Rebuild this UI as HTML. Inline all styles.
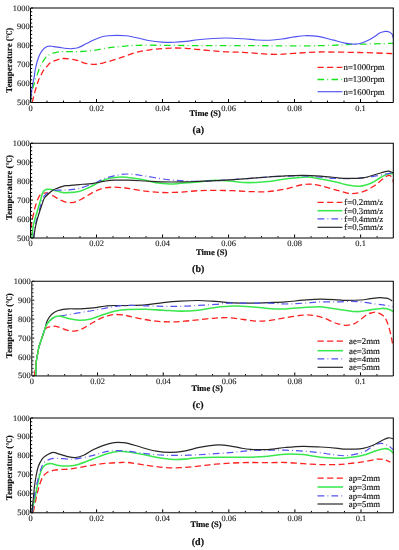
<!DOCTYPE html><html><head><meta charset="utf-8"><title>Temperature vs Time</title><style>html,body{margin:0;padding:0;background:#fff;}svg{display:block;} text{font-family:'Liberation Serif','Times New Roman',serif;text-rendering:geometricPrecision;}</style></head><body>
<svg width="399" height="550" viewBox="0 0 399 550">
<rect width="399" height="550" fill="#fff"/>
<defs><clipPath id="clip0"><rect x="30.50" y="5.00" width="362.80" height="97.50"/></clipPath></defs>
<path d="M32.20 102.50 C32.38 101.73 32.92 99.43 33.30 97.90 C33.68 96.37 34.05 94.95 34.50 93.30 C34.95 91.65 35.50 89.65 36.00 88.00 C36.50 86.35 36.98 84.93 37.50 83.40 C38.02 81.87 38.45 80.33 39.10 78.80 C39.75 77.27 40.58 75.73 41.40 74.20 C42.22 72.67 43.02 70.97 44.00 69.60 C44.98 68.23 46.25 67.13 47.30 66.00 C48.35 64.87 49.05 63.70 50.30 62.80 C51.55 61.90 53.18 61.25 54.80 60.60 C56.42 59.95 58.40 59.25 60.00 58.90 C61.60 58.55 62.47 58.45 64.40 58.50 C66.33 58.55 69.33 58.85 71.60 59.20 C73.87 59.55 75.68 59.92 78.00 60.60 C80.32 61.28 82.75 62.67 85.50 63.30 C88.25 63.93 91.48 64.47 94.50 64.40 C97.52 64.33 100.08 63.73 103.60 62.90 C107.12 62.07 111.85 60.58 115.60 59.40 C119.35 58.22 122.37 57.05 126.10 55.80 C129.83 54.55 134.02 52.90 138.00 51.90 C141.98 50.90 146.00 50.35 150.00 49.80 C154.00 49.25 158.00 48.90 162.00 48.60 C166.00 48.30 170.00 48.05 174.00 48.00 C178.00 47.95 182.00 48.05 186.00 48.30 C190.00 48.55 193.50 49.08 198.00 49.50 C202.50 49.92 208.00 50.40 213.00 50.80 C218.00 51.20 223.00 51.65 228.00 51.90 C233.00 52.15 238.00 52.05 243.00 52.30 C248.00 52.55 252.50 53.05 258.00 53.40 C263.50 53.75 270.00 54.40 276.00 54.40 C282.00 54.40 287.00 53.80 294.00 53.40 C301.00 53.00 307.33 52.15 318.00 52.00 C328.67 51.85 346.00 52.25 358.00 52.50 C370.00 52.75 384.17 53.30 390.00 53.50 C395.83 53.70 392.50 53.67 393.00 53.70" fill="none" stroke="#ff2020" stroke-width="1.30" stroke-linejoin="round" stroke-dasharray="6.2 3.4" clip-path="url(#clip0)"/>
<path d="M30.60 102.50 C30.73 101.08 31.07 96.30 31.40 94.00 C31.73 91.70 32.15 90.35 32.60 88.70 C33.05 87.05 33.65 85.62 34.10 84.10 C34.55 82.58 34.85 81.00 35.30 79.60 C35.75 78.20 36.23 77.23 36.80 75.70 C37.37 74.17 38.13 71.92 38.70 70.40 C39.27 68.88 39.58 67.93 40.20 66.60 C40.82 65.27 41.53 63.85 42.40 62.40 C43.27 60.95 44.40 59.08 45.40 57.90 C46.40 56.72 47.20 56.05 48.40 55.30 C49.60 54.55 51.15 53.93 52.60 53.40 C54.05 52.87 55.13 52.40 57.10 52.10 C59.07 51.80 60.92 51.68 64.40 51.60 C67.88 51.52 73.23 51.78 78.00 51.60 C82.77 51.42 88.00 51.13 93.00 50.50 C98.00 49.87 102.98 48.50 108.00 47.80 C113.02 47.10 118.10 46.72 123.10 46.30 C128.10 45.88 130.52 45.47 138.00 45.30 C145.48 45.13 158.00 45.25 168.00 45.30 C178.00 45.35 183.00 45.55 198.00 45.60 C213.00 45.65 245.00 45.55 258.00 45.60 C271.00 45.65 266.00 45.88 276.00 45.90 C286.00 45.92 305.00 45.95 318.00 45.70 C331.00 45.45 342.00 44.78 354.00 44.40 C366.00 44.02 383.50 43.57 390.00 43.40 C396.50 43.23 392.50 43.40 393.00 43.40" fill="none" stroke="#18e41e" stroke-width="1.30" stroke-linejoin="round" stroke-dasharray="6.6 3.2 0.9 3.3" clip-path="url(#clip0)"/>
<path d="M30.60 102.50 C30.73 100.83 31.07 95.43 31.40 92.50 C31.73 89.57 32.15 87.43 32.60 84.90 C33.05 82.37 33.62 80.03 34.10 77.30 C34.58 74.57 34.93 71.30 35.50 68.50 C36.07 65.70 36.78 62.83 37.50 60.50 C38.22 58.17 38.98 56.18 39.80 54.50 C40.62 52.82 41.53 51.52 42.40 50.40 C43.27 49.28 44.07 48.48 45.00 47.80 C45.93 47.12 46.87 46.55 48.00 46.30 C49.13 46.05 50.53 46.20 51.80 46.30 C53.07 46.40 54.23 46.72 55.60 46.90 C56.97 47.08 58.53 47.17 60.00 47.40 C61.47 47.63 62.47 48.08 64.40 48.30 C66.33 48.52 69.33 48.78 71.60 48.70 C73.87 48.62 75.68 48.57 78.00 47.80 C80.32 47.03 83.00 45.35 85.50 44.10 C88.00 42.85 90.48 41.43 93.00 40.30 C95.52 39.17 98.10 38.05 100.60 37.30 C103.10 36.55 105.25 36.13 108.00 35.80 C110.75 35.47 114.08 35.30 117.10 35.30 C120.12 35.30 122.62 35.35 126.10 35.80 C129.58 36.25 134.02 37.17 138.00 38.00 C141.98 38.83 146.00 40.12 150.00 40.80 C154.00 41.48 157.98 41.85 162.00 42.10 C166.02 42.35 170.08 42.42 174.10 42.30 C178.12 42.18 182.12 41.82 186.10 41.40 C190.08 40.98 193.52 40.28 198.00 39.80 C202.48 39.32 208.23 38.80 213.00 38.50 C217.77 38.20 221.58 37.95 226.60 38.00 C231.62 38.05 237.87 38.47 243.10 38.80 C248.33 39.13 253.52 39.77 258.00 40.00 C262.48 40.23 266.00 40.37 270.00 40.20 C274.00 40.03 277.98 39.55 282.00 39.00 C286.02 38.45 290.33 37.45 294.10 36.90 C297.87 36.35 300.62 35.78 304.60 35.70 C308.58 35.62 313.77 35.82 318.00 36.40 C322.23 36.98 327.00 38.47 330.00 39.20 C333.00 39.93 333.50 40.15 336.00 40.80 C338.50 41.45 342.30 42.57 345.00 43.10 C347.70 43.63 349.93 43.88 352.20 44.00 C354.47 44.12 356.48 44.18 358.60 43.80 C360.72 43.42 363.03 42.40 364.90 41.70 C366.77 41.00 368.17 40.45 369.80 39.60 C371.43 38.75 373.07 37.68 374.70 36.60 C376.33 35.52 377.82 33.97 379.60 33.10 C381.38 32.23 383.78 31.60 385.40 31.40 C387.02 31.20 388.15 31.38 389.30 31.90 C390.45 32.42 391.65 33.48 392.30 34.50 C392.95 35.52 393.05 37.42 393.20 38.00" fill="none" stroke="#5252f2" stroke-width="1.15" stroke-linejoin="round" clip-path="url(#clip0)"/>
<path d="M30.50 8.00 H393.30 V102.50" fill="none" stroke="#000" stroke-width="1.05"/>
<path d="M30.50 8.00 V102.50 H393.30" fill="none" stroke="#000" stroke-width="1"/>
<path d="M31.00 102.50h2.00 M31.00 98.72h1.20 M31.00 94.94h1.20 M31.00 91.16h1.20 M31.00 87.38h1.20 M31.00 83.60h2.00 M31.00 79.82h1.20 M31.00 76.04h1.20 M31.00 72.26h1.20 M31.00 68.48h1.20 M31.00 64.70h2.00 M31.00 60.92h1.20 M31.00 57.14h1.20 M31.00 53.36h1.20 M31.00 49.58h1.20 M31.00 45.80h2.00 M31.00 42.02h1.20 M31.00 38.24h1.20 M31.00 34.46h1.20 M31.00 30.68h1.20 M31.00 26.90h2.00 M31.00 23.12h1.20 M31.00 19.34h1.20 M31.00 15.56h1.20 M31.00 11.78h1.20 M31.00 8.00h2.00 M47.00 102.00v-1.40 M63.50 102.00v-1.40 M80.00 102.00v-1.40 M96.50 102.00v-3.00 M113.00 102.00v-1.40 M129.50 102.00v-1.40 M146.00 102.00v-1.40 M162.50 102.00v-3.00 M179.00 102.00v-1.40 M195.50 102.00v-1.40 M212.00 102.00v-1.40 M228.50 102.00v-3.00 M245.00 102.00v-1.40 M261.50 102.00v-1.40 M278.00 102.00v-1.40 M294.50 102.00v-3.00 M311.00 102.00v-1.40 M327.50 102.00v-1.40 M344.00 102.00v-1.40 M360.50 102.00v-3.00 M377.00 102.00v-1.40" stroke="#000" stroke-width="1" fill="none"/>
<text x="29.60" y="105.00" font-size="8.4" text-anchor="end" fill="#1a1a1a" stroke="#1a1a1a" stroke-width="0.12">500</text>
<text x="29.60" y="86.10" font-size="8.4" text-anchor="end" fill="#1a1a1a" stroke="#1a1a1a" stroke-width="0.12">600</text>
<text x="29.60" y="67.20" font-size="8.4" text-anchor="end" fill="#1a1a1a" stroke="#1a1a1a" stroke-width="0.12">700</text>
<text x="29.60" y="48.30" font-size="8.4" text-anchor="end" fill="#1a1a1a" stroke="#1a1a1a" stroke-width="0.12">800</text>
<text x="29.60" y="29.40" font-size="8.4" text-anchor="end" fill="#1a1a1a" stroke="#1a1a1a" stroke-width="0.12">900</text>
<text x="29.60" y="10.50" font-size="8.4" text-anchor="end" fill="#1a1a1a" stroke="#1a1a1a" stroke-width="0.12">1000</text>
<text x="30.50" y="110.80" font-size="8.4" text-anchor="middle" fill="#1a1a1a" stroke="#1a1a1a" stroke-width="0.12">0</text>
<text x="96.50" y="110.80" font-size="8.4" text-anchor="middle" fill="#1a1a1a" stroke="#1a1a1a" stroke-width="0.12">0.02</text>
<text x="162.50" y="110.80" font-size="8.4" text-anchor="middle" fill="#1a1a1a" stroke="#1a1a1a" stroke-width="0.12">0.04</text>
<text x="228.50" y="110.80" font-size="8.4" text-anchor="middle" fill="#1a1a1a" stroke="#1a1a1a" stroke-width="0.12">0.06</text>
<text x="294.50" y="110.80" font-size="8.4" text-anchor="middle" fill="#1a1a1a" stroke="#1a1a1a" stroke-width="0.12">0.08</text>
<text x="360.50" y="110.80" font-size="8.4" text-anchor="middle" fill="#1a1a1a" stroke="#1a1a1a" stroke-width="0.12">0.1</text>
<text x="205.20" y="116.20" font-size="8.5" font-weight="bold" text-anchor="middle" fill="#111" stroke="#111" stroke-width="0.2">Time (S)</text>
<text transform="translate(11.8 60.20) rotate(-90)" font-size="8.9" font-weight="bold" text-anchor="middle" fill="#111" stroke="#111" stroke-width="0.15">Temperature (<tspan font-family="Noto Serif CJK SC, serif" font-weight="bold" font-size="7.6" dy="0.5">℃</tspan><tspan dy="-0.5">)</tspan></text>
<text x="198.30" y="133.00" font-size="10.0" font-weight="bold" text-anchor="middle" fill="#111" stroke="#111" stroke-width="0.2">(a)</text>
<path d="M317.50 67.40H342.40" stroke="#ff2020" stroke-width="1.30" fill="none" stroke-dasharray="6.2 3.4"/>
<text x="343.50" y="70.30" font-size="8.8" fill="#111" stroke="#111" stroke-width="0.15">n=1000rpm</text>
<path d="M317.50 79.50H342.40" stroke="#18e41e" stroke-width="1.30" fill="none" stroke-dasharray="6.6 3.2 0.9 3.3"/>
<text x="343.50" y="82.40" font-size="8.8" fill="#111" stroke="#111" stroke-width="0.15">n=1300rpm</text>
<path d="M317.50 91.70H342.40" stroke="#5252f2" stroke-width="1.15" fill="none"/>
<text x="343.50" y="94.60" font-size="8.8" fill="#111" stroke="#111" stroke-width="0.15">n=1600rpm</text>
<defs><clipPath id="clip1"><rect x="30.50" y="140.20" width="362.80" height="97.80"/></clipPath></defs>
<path d="M30.40 237.90 C30.55 235.95 30.98 229.33 31.30 226.20 C31.62 223.07 31.90 221.23 32.30 219.10 C32.70 216.97 33.32 215.10 33.70 213.40 C34.08 211.70 34.15 210.60 34.60 208.90 C35.05 207.20 35.87 204.82 36.40 203.20 C36.93 201.58 37.20 200.53 37.80 199.20 C38.40 197.87 39.22 196.15 40.00 195.20 C40.78 194.25 41.77 193.85 42.50 193.50 C43.23 193.15 43.68 193.18 44.40 193.10 C45.12 193.02 45.90 192.82 46.80 193.00 C47.70 193.18 48.60 193.65 49.80 194.20 C51.00 194.75 52.55 195.50 54.00 196.30 C55.45 197.10 56.67 198.08 58.50 199.00 C60.33 199.92 62.75 201.20 65.00 201.80 C67.25 202.40 69.37 202.98 72.00 202.60 C74.63 202.22 77.58 201.05 80.80 199.50 C84.02 197.95 87.78 195.12 91.30 193.30 C94.82 191.48 98.38 189.62 101.90 188.60 C105.42 187.58 108.90 187.35 112.40 187.20 C115.90 187.05 120.30 187.50 122.90 187.70 C125.50 187.90 124.23 187.82 128.00 188.40 C131.77 188.98 139.65 190.52 145.50 191.20 C151.35 191.88 157.25 192.35 163.10 192.50 C168.95 192.65 174.78 192.40 180.60 192.10 C186.42 191.80 192.18 190.98 198.00 190.70 C203.82 190.42 209.65 190.40 215.50 190.40 C221.35 190.40 227.25 190.50 233.10 190.70 C238.95 190.90 244.78 191.45 250.60 191.60 C256.42 191.75 262.18 192.03 268.00 191.60 C273.82 191.17 279.65 190.17 285.50 189.00 C291.35 187.83 298.12 185.33 303.10 184.60 C308.08 183.87 311.60 184.17 315.40 184.60 C319.20 185.03 322.05 186.18 325.90 187.20 C329.75 188.22 334.35 189.62 338.50 190.70 C342.65 191.78 346.70 193.55 350.80 193.70 C354.90 193.85 359.30 192.83 363.10 191.60 C366.90 190.37 370.38 188.35 373.60 186.30 C376.82 184.25 379.92 181.12 382.40 179.30 C384.88 177.48 386.90 175.70 388.50 175.40 C390.10 175.10 391.12 176.12 392.00 177.50 C392.88 178.88 393.50 182.67 393.80 183.70" fill="none" stroke="#ff2020" stroke-width="1.30" stroke-linejoin="round" stroke-dasharray="6.2 3.4" clip-path="url(#clip1)"/>
<path d="M31.80 237.90 C32.03 235.95 32.68 229.33 33.20 226.20 C33.72 223.07 34.27 221.47 34.90 219.10 C35.53 216.73 36.35 214.18 37.00 212.00 C37.65 209.82 38.20 208.00 38.80 206.00 C39.40 204.00 40.07 201.87 40.60 200.00 C41.13 198.13 41.57 196.17 42.00 194.80 C42.43 193.43 42.80 192.52 43.20 191.80 C43.60 191.08 43.93 190.87 44.40 190.50 C44.87 190.13 45.40 189.80 46.00 189.60 C46.60 189.40 47.07 189.32 48.00 189.30 C48.93 189.28 50.08 189.20 51.60 189.50 C53.12 189.80 55.38 190.63 57.10 191.10 C58.82 191.57 60.42 192.03 61.90 192.30 C63.38 192.57 63.15 192.82 66.00 192.70 C68.85 192.58 75.07 192.52 79.00 191.60 C82.93 190.68 86.08 188.82 89.60 187.20 C93.12 185.58 96.60 183.42 100.10 181.90 C103.60 180.38 107.08 178.92 110.60 178.10 C114.12 177.28 118.30 177.10 121.20 177.00 C124.10 176.90 124.53 177.07 128.00 177.50 C131.47 177.93 137.33 178.72 142.00 179.60 C146.67 180.48 151.32 182.07 156.00 182.80 C160.68 183.53 166.00 183.92 170.10 184.00 C174.20 184.08 175.95 183.65 180.60 183.30 C185.25 182.95 192.18 182.42 198.00 181.90 C203.82 181.38 210.23 180.35 215.50 180.20 C220.77 180.05 224.92 180.62 229.60 181.00 C234.28 181.38 239.22 182.25 243.60 182.50 C247.98 182.75 251.83 182.65 255.90 182.50 C259.97 182.35 263.07 182.18 268.00 181.60 C272.93 181.02 279.07 179.77 285.50 179.00 C291.93 178.23 300.75 177.00 306.60 177.00 C312.45 177.00 315.37 178.08 320.60 179.00 C325.83 179.92 333.85 181.57 338.00 182.50 C342.15 183.43 341.90 183.97 345.50 184.60 C349.10 185.23 355.20 186.60 359.60 186.30 C364.00 186.00 368.40 184.27 371.90 182.80 C375.40 181.33 377.98 178.97 380.60 177.50 C383.22 176.03 385.70 174.63 387.60 174.00 C389.50 173.37 391.05 173.70 392.00 173.70 C392.95 173.70 393.08 173.95 393.30 174.00" fill="none" stroke="#3ae84e" stroke-width="1.55" stroke-linejoin="round" clip-path="url(#clip1)"/>
<path d="M33.70 237.90 C33.93 235.95 34.58 229.33 35.10 226.20 C35.62 223.07 36.17 221.47 36.80 219.10 C37.43 216.73 38.20 214.52 38.90 212.00 C39.60 209.48 40.28 206.42 41.00 204.00 C41.72 201.58 42.43 199.08 43.20 197.50 C43.97 195.92 44.60 195.42 45.60 194.50 C46.60 193.58 47.80 192.68 49.20 192.00 C50.60 191.32 52.20 190.70 54.00 190.40 C55.80 190.10 58.28 190.25 60.00 190.20 C61.72 190.15 62.88 190.17 64.30 190.10 C65.72 190.03 66.05 190.08 68.50 189.80 C70.95 189.52 74.90 189.42 79.00 188.40 C83.10 187.38 89.00 185.27 93.10 183.70 C97.20 182.13 100.10 180.32 103.60 179.00 C107.10 177.68 110.03 176.63 114.10 175.80 C118.17 174.97 122.77 173.95 128.00 174.00 C133.23 174.05 139.65 175.27 145.50 176.10 C151.35 176.93 157.25 178.23 163.10 179.00 C168.95 179.77 174.78 180.30 180.60 180.70 C186.42 181.10 192.18 181.40 198.00 181.40 C203.82 181.40 209.65 181.00 215.50 180.70 C221.35 180.40 227.25 179.98 233.10 179.60 C238.95 179.22 244.78 178.83 250.60 178.40 C256.42 177.97 262.18 177.35 268.00 177.00 C273.82 176.65 279.65 176.50 285.50 176.30 C291.35 176.10 297.25 175.65 303.10 175.80 C308.95 175.95 315.33 176.77 320.60 177.20 C325.87 177.63 329.08 178.20 334.70 178.40 C340.32 178.60 348.10 178.68 354.30 178.40 C360.50 178.12 366.63 177.43 371.90 176.70 C377.17 175.97 382.68 174.58 385.90 174.00 C389.12 173.42 389.97 173.28 391.20 173.20 C392.43 173.12 392.95 173.45 393.30 173.50" fill="none" stroke="#5252f2" stroke-width="1.20" stroke-linejoin="round" stroke-dasharray="6.8 3.2 0.8 3.1" clip-path="url(#clip1)"/>
<path d="M33.60 237.90 C33.93 235.95 34.98 229.33 35.60 226.20 C36.22 223.07 36.65 221.47 37.30 219.10 C37.95 216.73 38.78 214.27 39.50 212.00 C40.22 209.73 40.88 207.62 41.60 205.50 C42.32 203.38 43.12 200.80 43.80 199.30 C44.48 197.80 45.00 197.35 45.70 196.50 C46.40 195.65 46.82 195.25 48.00 194.20 C49.18 193.15 51.18 191.22 52.80 190.20 C54.42 189.18 56.18 188.70 57.70 188.10 C59.22 187.50 60.52 187.00 61.90 186.60 C63.28 186.20 63.15 186.03 66.00 185.70 C68.85 185.37 74.48 185.00 79.00 184.60 C83.52 184.20 89.00 183.83 93.10 183.30 C97.20 182.77 100.10 181.92 103.60 181.40 C107.10 180.88 110.03 180.40 114.10 180.20 C118.17 180.00 122.77 180.07 128.00 180.20 C133.23 180.33 139.65 180.72 145.50 181.00 C151.35 181.28 157.25 181.75 163.10 181.90 C168.95 182.05 174.78 181.98 180.60 181.90 C186.42 181.82 192.18 181.60 198.00 181.40 C203.82 181.20 209.65 181.00 215.50 180.70 C221.35 180.40 227.25 179.98 233.10 179.60 C238.95 179.22 244.78 178.83 250.60 178.40 C256.42 177.97 262.18 177.43 268.00 177.00 C273.82 176.57 279.65 176.08 285.50 175.80 C291.35 175.52 297.25 175.25 303.10 175.30 C308.95 175.35 314.78 175.68 320.60 176.10 C326.42 176.52 333.85 177.42 338.00 177.80 C342.15 178.18 341.32 178.38 345.50 178.40 C349.68 178.42 357.83 178.63 363.10 177.90 C368.37 177.17 373.02 175.13 377.10 174.00 C381.18 172.87 385.12 171.38 387.60 171.10 C390.08 170.82 391.05 171.98 392.00 172.30 C392.95 172.62 393.08 172.88 393.30 173.00" fill="none" stroke="#282828" stroke-width="1.20" stroke-linejoin="round" clip-path="url(#clip1)"/>
<path d="M30.50 143.20 H393.30 V238.00" fill="none" stroke="#000" stroke-width="1.05"/>
<path d="M30.50 143.20 V238.00 H393.30" fill="none" stroke="#000" stroke-width="1"/>
<path d="M31.00 238.00h2.00 M31.00 234.21h1.20 M31.00 230.42h1.20 M31.00 226.62h1.20 M31.00 222.83h1.20 M31.00 219.04h2.00 M31.00 215.25h1.20 M31.00 211.46h1.20 M31.00 207.66h1.20 M31.00 203.87h1.20 M31.00 200.08h2.00 M31.00 196.29h1.20 M31.00 192.50h1.20 M31.00 188.70h1.20 M31.00 184.91h1.20 M31.00 181.12h2.00 M31.00 177.33h1.20 M31.00 173.54h1.20 M31.00 169.74h1.20 M31.00 165.95h1.20 M31.00 162.16h2.00 M31.00 158.37h1.20 M31.00 154.58h1.20 M31.00 150.78h1.20 M31.00 146.99h1.20 M31.00 143.20h2.00 M47.00 237.50v-1.40 M63.51 237.50v-1.40 M80.02 237.50v-1.40 M96.52 237.50v-3.00 M113.03 237.50v-1.40 M129.53 237.50v-1.40 M146.04 237.50v-1.40 M162.54 237.50v-3.00 M179.04 237.50v-1.40 M195.55 237.50v-1.40 M212.06 237.50v-1.40 M228.56 237.50v-3.00 M245.06 237.50v-1.40 M261.57 237.50v-1.40 M278.07 237.50v-1.40 M294.58 237.50v-3.00 M311.09 237.50v-1.40 M327.59 237.50v-1.40 M344.10 237.50v-1.40 M360.60 237.50v-3.00 M377.10 237.50v-1.40" stroke="#000" stroke-width="1" fill="none"/>
<text x="29.60" y="240.50" font-size="8.4" text-anchor="end" fill="#1a1a1a" stroke="#1a1a1a" stroke-width="0.12">500</text>
<text x="29.60" y="221.54" font-size="8.4" text-anchor="end" fill="#1a1a1a" stroke="#1a1a1a" stroke-width="0.12">600</text>
<text x="29.60" y="202.58" font-size="8.4" text-anchor="end" fill="#1a1a1a" stroke="#1a1a1a" stroke-width="0.12">700</text>
<text x="29.60" y="183.62" font-size="8.4" text-anchor="end" fill="#1a1a1a" stroke="#1a1a1a" stroke-width="0.12">800</text>
<text x="29.60" y="164.66" font-size="8.4" text-anchor="end" fill="#1a1a1a" stroke="#1a1a1a" stroke-width="0.12">900</text>
<text x="29.60" y="145.70" font-size="8.4" text-anchor="end" fill="#1a1a1a" stroke="#1a1a1a" stroke-width="0.12">1000</text>
<text x="30.50" y="246.30" font-size="8.4" text-anchor="middle" fill="#1a1a1a" stroke="#1a1a1a" stroke-width="0.12">0</text>
<text x="96.52" y="246.30" font-size="8.4" text-anchor="middle" fill="#1a1a1a" stroke="#1a1a1a" stroke-width="0.12">0.02</text>
<text x="162.54" y="246.30" font-size="8.4" text-anchor="middle" fill="#1a1a1a" stroke="#1a1a1a" stroke-width="0.12">0.04</text>
<text x="228.56" y="246.30" font-size="8.4" text-anchor="middle" fill="#1a1a1a" stroke="#1a1a1a" stroke-width="0.12">0.06</text>
<text x="294.58" y="246.30" font-size="8.4" text-anchor="middle" fill="#1a1a1a" stroke="#1a1a1a" stroke-width="0.12">0.08</text>
<text x="360.60" y="246.30" font-size="8.4" text-anchor="middle" fill="#1a1a1a" stroke="#1a1a1a" stroke-width="0.12">0.1</text>
<text x="211.60" y="254.80" font-size="8.5" font-weight="bold" text-anchor="middle" fill="#111" stroke="#111" stroke-width="0.2">Time (S)</text>
<text transform="translate(11.8 187.50) rotate(-90)" font-size="8.9" font-weight="bold" text-anchor="middle" fill="#111" stroke="#111" stroke-width="0.15">Temperature (<tspan font-family="Noto Serif CJK SC, serif" font-weight="bold" font-size="7.6" dy="0.5">℃</tspan><tspan dy="-0.5">)</tspan></text>
<text x="198.20" y="271.50" font-size="10.0" font-weight="bold" text-anchor="middle" fill="#111" stroke="#111" stroke-width="0.2">(b)</text>
<path d="M317.50 202.40H342.40" stroke="#ff2020" stroke-width="1.30" fill="none" stroke-dasharray="6.2 3.4"/>
<text x="344.30" y="205.30" font-size="8.8" fill="#111" stroke="#111" stroke-width="0.15">f=0.2mm/z</text>
<path d="M317.50 210.70H342.40" stroke="#3ae84e" stroke-width="1.55" fill="none"/>
<text x="344.30" y="213.60" font-size="8.8" fill="#111" stroke="#111" stroke-width="0.15">f=0.3mm/z</text>
<path d="M317.50 218.80H342.40" stroke="#5252f2" stroke-width="1.20" fill="none" stroke-dasharray="6.8 3.2 0.8 3.1"/>
<text x="344.30" y="221.70" font-size="8.8" fill="#111" stroke="#111" stroke-width="0.15">f=0.4mm/z</text>
<path d="M317.50 227.30H342.40" stroke="#282828" stroke-width="1.20" fill="none"/>
<text x="344.30" y="230.20" font-size="8.8" fill="#111" stroke="#111" stroke-width="0.15">f=0.5mm/z</text>
<defs><clipPath id="clip2"><rect x="31.80" y="278.30" width="361.50" height="97.65"/></clipPath></defs>
<path d="M35.70 375.90 C35.78 373.65 35.88 366.07 36.20 362.40 C36.52 358.73 37.13 356.50 37.60 353.90 C38.07 351.30 38.30 349.40 39.00 346.80 C39.70 344.20 40.87 341.13 41.80 338.30 C42.73 335.47 43.97 331.77 44.60 329.80 C45.23 327.83 45.20 327.92 45.60 326.50 C46.00 325.08 46.28 323.00 47.00 321.30 C47.72 319.60 48.72 317.77 49.90 316.30 C51.08 314.83 52.68 313.47 54.10 312.50 C55.52 311.53 57.08 310.98 58.40 310.50 C59.72 310.02 60.32 309.88 62.00 309.60 C63.68 309.32 65.37 308.93 68.50 308.80 C71.63 308.67 76.70 308.95 80.80 308.80 C84.90 308.65 88.72 308.40 93.10 307.90 C97.48 307.40 103.02 306.20 107.10 305.80 C111.18 305.40 114.12 305.55 117.60 305.50 C121.08 305.45 123.35 305.60 128.00 305.50 C132.65 305.40 139.65 305.38 145.50 304.90 C151.35 304.42 157.25 303.23 163.10 302.60 C168.95 301.97 174.78 301.45 180.60 301.10 C186.42 300.75 192.18 300.45 198.00 300.50 C203.82 300.55 209.65 301.02 215.50 301.40 C221.35 301.78 227.25 302.50 233.10 302.80 C238.95 303.10 244.78 303.23 250.60 303.20 C256.42 303.17 262.18 302.82 268.00 302.60 C273.82 302.38 279.65 302.30 285.50 301.90 C291.35 301.50 297.25 300.67 303.10 300.20 C308.95 299.73 314.78 299.15 320.60 299.10 C326.42 299.05 333.85 299.68 338.00 299.90 C342.15 300.12 341.67 300.38 345.50 300.40 C349.33 300.42 356.88 300.28 361.00 300.00 C365.12 299.72 367.03 299.10 370.20 298.70 C373.37 298.30 377.37 297.68 380.00 297.60 C382.63 297.52 384.50 297.97 386.00 298.20 C387.50 298.43 387.97 298.53 389.00 299.00 C390.03 299.47 391.67 300.67 392.20 301.00" fill="none" stroke="#282828" stroke-width="1.20" stroke-linejoin="round" clip-path="url(#clip2)"/>
<path d="M34.30 375.90 C34.62 373.65 35.65 366.07 36.20 362.40 C36.75 358.73 37.13 356.50 37.60 353.90 C38.07 351.30 38.30 349.40 39.00 346.80 C39.70 344.20 40.87 341.13 41.80 338.30 C42.73 335.47 43.97 331.42 44.60 329.80 C45.23 328.18 44.97 329.03 45.60 328.60 C46.23 328.17 47.30 327.60 48.40 327.20 C49.50 326.80 50.60 326.27 52.20 326.20 C53.80 326.13 55.87 326.25 58.00 326.80 C60.13 327.35 62.37 328.77 65.00 329.50 C67.63 330.23 70.87 331.35 73.80 331.20 C76.73 331.05 79.38 330.05 82.60 328.60 C85.82 327.15 89.60 324.40 93.10 322.50 C96.60 320.60 100.10 318.52 103.60 317.20 C107.10 315.88 110.58 314.95 114.10 314.60 C117.62 314.25 122.38 314.87 124.70 315.10 C127.02 315.33 125.12 315.35 128.00 316.00 C130.88 316.65 137.32 318.13 142.00 319.00 C146.68 319.87 151.42 320.72 156.10 321.20 C160.78 321.68 165.43 321.90 170.10 321.90 C174.77 321.90 179.45 321.55 184.10 321.20 C188.75 320.85 192.77 320.32 198.00 319.80 C203.23 319.28 210.23 318.45 215.50 318.10 C220.77 317.75 224.92 317.47 229.60 317.70 C234.28 317.93 239.22 318.93 243.60 319.50 C247.98 320.07 251.83 320.90 255.90 321.10 C259.97 321.30 263.07 321.27 268.00 320.70 C272.93 320.13 279.65 318.63 285.50 317.70 C291.35 316.77 298.42 315.48 303.10 315.10 C307.78 314.72 310.10 314.90 313.60 315.40 C317.10 315.90 320.88 316.98 324.10 318.10 C327.32 319.22 330.58 321.15 332.90 322.10 C335.22 323.05 335.90 323.25 338.00 323.80 C340.10 324.35 343.17 325.28 345.50 325.40 C347.83 325.52 350.23 324.95 352.00 324.50 C353.77 324.05 354.77 323.47 356.10 322.70 C357.43 321.93 358.25 321.22 360.00 319.90 C361.75 318.58 364.77 315.95 366.60 314.80 C368.43 313.65 369.33 313.42 371.00 313.00 C372.67 312.58 374.62 311.88 376.60 312.30 C378.58 312.72 381.20 314.02 382.90 315.50 C384.60 316.98 385.63 318.65 386.80 321.20 C387.97 323.75 389.07 327.72 389.90 330.80 C390.73 333.88 391.30 337.17 391.80 339.70 C392.30 342.23 392.72 344.95 392.90 346.00" fill="none" stroke="#ff2020" stroke-width="1.30" stroke-linejoin="round" stroke-dasharray="6.2 3.4" clip-path="url(#clip2)"/>
<path d="M35.70 375.90 C35.78 373.65 35.88 366.07 36.20 362.40 C36.52 358.73 37.13 356.50 37.60 353.90 C38.07 351.30 38.30 349.40 39.00 346.80 C39.70 344.20 40.87 341.13 41.80 338.30 C42.73 335.47 43.93 331.77 44.60 329.80 C45.27 327.83 45.40 327.45 45.80 326.50 C46.20 325.55 46.32 325.08 47.00 324.10 C47.68 323.12 48.72 321.73 49.90 320.60 C51.08 319.47 52.75 318.02 54.10 317.30 C55.45 316.58 55.60 316.75 58.00 316.30 C60.40 315.85 64.70 315.23 68.50 314.60 C72.30 313.97 76.70 313.18 80.80 312.50 C84.90 311.82 88.72 311.27 93.10 310.50 C97.48 309.73 103.02 308.63 107.10 307.90 C111.18 307.17 114.12 306.52 117.60 306.10 C121.08 305.68 123.35 305.45 128.00 305.40 C132.65 305.35 139.65 305.65 145.50 305.80 C151.35 305.95 157.25 306.22 163.10 306.30 C168.95 306.38 174.78 306.45 180.60 306.30 C186.42 306.15 192.18 305.72 198.00 305.40 C203.82 305.08 210.23 304.77 215.50 304.40 C220.77 304.03 223.75 303.40 229.60 303.20 C235.45 303.00 244.20 303.20 250.60 303.20 C257.00 303.20 262.18 303.07 268.00 303.20 C273.82 303.33 279.65 304.00 285.50 304.00 C291.35 304.00 297.25 303.55 303.10 303.20 C308.95 302.85 314.78 302.13 320.60 301.90 C326.42 301.67 332.67 301.90 338.00 301.80 C343.33 301.70 348.52 301.25 352.60 301.30 C356.68 301.35 358.72 301.65 362.50 302.10 C366.28 302.55 371.47 303.47 375.30 304.00 C379.13 304.53 382.57 304.87 385.50 305.30 C388.43 305.73 391.67 306.38 392.90 306.60" fill="none" stroke="#5252f2" stroke-width="1.20" stroke-linejoin="round" stroke-dasharray="6.8 3.2 0.8 3.1" clip-path="url(#clip2)"/>
<path d="M35.70 375.90 C35.78 373.65 35.88 366.07 36.20 362.40 C36.52 358.73 37.13 356.50 37.60 353.90 C38.07 351.30 38.30 349.40 39.00 346.80 C39.70 344.20 40.87 341.13 41.80 338.30 C42.73 335.47 43.93 331.77 44.60 329.80 C45.27 327.83 45.40 327.45 45.80 326.50 C46.20 325.55 46.32 325.08 47.00 324.10 C47.68 323.12 48.72 321.73 49.90 320.60 C51.08 319.47 52.68 318.05 54.10 317.30 C55.52 316.55 57.08 316.22 58.40 316.10 C59.72 315.98 60.32 316.20 62.00 316.60 C63.68 317.00 65.67 317.90 68.50 318.50 C71.33 319.10 75.48 320.07 79.00 320.20 C82.52 320.33 86.08 320.03 89.60 319.30 C93.12 318.57 96.60 316.97 100.10 315.80 C103.60 314.63 107.08 313.25 110.60 312.30 C114.12 311.35 118.30 310.57 121.20 310.10 C124.10 309.63 123.95 309.63 128.00 309.50 C132.05 309.37 139.65 309.18 145.50 309.30 C151.35 309.42 157.25 309.90 163.10 310.20 C168.95 310.50 174.78 311.10 180.60 311.10 C186.42 311.10 192.18 310.80 198.00 310.20 C203.82 309.60 209.65 308.18 215.50 307.50 C221.35 306.82 227.25 306.23 233.10 306.10 C238.95 305.97 244.78 306.32 250.60 306.70 C256.42 307.08 262.18 308.03 268.00 308.40 C273.82 308.77 279.65 309.05 285.50 308.90 C291.35 308.75 297.53 307.87 303.10 307.50 C308.67 307.13 314.52 306.60 318.90 306.70 C323.28 306.80 326.22 307.67 329.40 308.10 C332.58 308.53 335.40 308.95 338.00 309.30 C340.60 309.65 341.98 309.82 345.00 310.20 C348.02 310.58 352.60 311.53 356.10 311.60 C359.60 311.67 363.02 310.98 366.00 310.60 C368.98 310.22 371.33 309.67 374.00 309.30 C376.67 308.93 379.83 308.48 382.00 308.40 C384.17 308.32 385.58 308.53 387.00 308.80 C388.42 309.07 389.50 309.55 390.50 310.00 C391.50 310.45 392.58 311.25 393.00 311.50" fill="none" stroke="#3ae84e" stroke-width="1.55" stroke-linejoin="round" clip-path="url(#clip2)"/>
<path d="M31.80 281.30 H393.30 V375.95" fill="none" stroke="#000" stroke-width="1.05"/>
<path d="M31.80 281.30 V375.95 H393.30" fill="none" stroke="#000" stroke-width="1"/>
<path d="M32.30 375.95h2.00 M32.30 372.16h1.20 M32.30 368.38h1.20 M32.30 364.59h1.20 M32.30 360.81h1.20 M32.30 357.02h2.00 M32.30 353.23h1.20 M32.30 349.45h1.20 M32.30 345.66h1.20 M32.30 341.88h1.20 M32.30 338.09h2.00 M32.30 334.30h1.20 M32.30 330.52h1.20 M32.30 326.73h1.20 M32.30 322.95h1.20 M32.30 319.16h2.00 M32.30 315.37h1.20 M32.30 311.59h1.20 M32.30 307.80h1.20 M32.30 304.02h1.20 M32.30 300.23h2.00 M32.30 296.44h1.20 M32.30 292.66h1.20 M32.30 288.87h1.20 M32.30 285.09h1.20 M32.30 281.30h2.00 M48.23 375.45v-1.40 M64.67 375.45v-1.40 M81.10 375.45v-1.40 M97.54 375.45v-3.00 M113.97 375.45v-1.40 M130.41 375.45v-1.40 M146.84 375.45v-1.40 M163.28 375.45v-3.00 M179.71 375.45v-1.40 M196.15 375.45v-1.40 M212.58 375.45v-1.40 M229.02 375.45v-3.00 M245.45 375.45v-1.40 M261.89 375.45v-1.40 M278.32 375.45v-1.40 M294.76 375.45v-3.00 M311.19 375.45v-1.40 M327.63 375.45v-1.40 M344.06 375.45v-1.40 M360.50 375.45v-3.00 M376.93 375.45v-1.40" stroke="#000" stroke-width="1" fill="none"/>
<text x="30.60" y="378.45" font-size="8.4" text-anchor="end" fill="#1a1a1a" stroke="#1a1a1a" stroke-width="0.12">500</text>
<text x="30.60" y="359.52" font-size="8.4" text-anchor="end" fill="#1a1a1a" stroke="#1a1a1a" stroke-width="0.12">600</text>
<text x="30.60" y="340.59" font-size="8.4" text-anchor="end" fill="#1a1a1a" stroke="#1a1a1a" stroke-width="0.12">700</text>
<text x="30.60" y="321.66" font-size="8.4" text-anchor="end" fill="#1a1a1a" stroke="#1a1a1a" stroke-width="0.12">800</text>
<text x="30.60" y="302.73" font-size="8.4" text-anchor="end" fill="#1a1a1a" stroke="#1a1a1a" stroke-width="0.12">900</text>
<text x="30.60" y="283.80" font-size="8.4" text-anchor="end" fill="#1a1a1a" stroke="#1a1a1a" stroke-width="0.12">1000</text>
<text x="31.80" y="384.25" font-size="8.4" text-anchor="middle" fill="#1a1a1a" stroke="#1a1a1a" stroke-width="0.12">0</text>
<text x="97.54" y="384.25" font-size="8.4" text-anchor="middle" fill="#1a1a1a" stroke="#1a1a1a" stroke-width="0.12">0.02</text>
<text x="163.28" y="384.25" font-size="8.4" text-anchor="middle" fill="#1a1a1a" stroke="#1a1a1a" stroke-width="0.12">0.04</text>
<text x="229.02" y="384.25" font-size="8.4" text-anchor="middle" fill="#1a1a1a" stroke="#1a1a1a" stroke-width="0.12">0.06</text>
<text x="294.76" y="384.25" font-size="8.4" text-anchor="middle" fill="#1a1a1a" stroke="#1a1a1a" stroke-width="0.12">0.08</text>
<text x="360.50" y="384.25" font-size="8.4" text-anchor="middle" fill="#1a1a1a" stroke="#1a1a1a" stroke-width="0.12">0.1</text>
<text x="207.10" y="390.80" font-size="8.5" font-weight="bold" text-anchor="middle" fill="#111" stroke="#111" stroke-width="0.2">Time (S)</text>
<text transform="translate(11.8 325.70) rotate(-90)" font-size="8.9" font-weight="bold" text-anchor="middle" fill="#111" stroke="#111" stroke-width="0.15">Temperature (<tspan font-family="Noto Serif CJK SC, serif" font-weight="bold" font-size="7.6" dy="0.5">℃</tspan><tspan dy="-0.5">)</tspan></text>
<text x="198.00" y="407.80" font-size="10.0" font-weight="bold" text-anchor="middle" fill="#111" stroke="#111" stroke-width="0.2">(c)</text>
<path d="M317.50 341.10H343.00" stroke="#ff2020" stroke-width="1.30" fill="none" stroke-dasharray="6.2 3.4"/>
<text x="349.00" y="344.00" font-size="8.8" fill="#111" stroke="#111" stroke-width="0.15">ae=2mm</text>
<path d="M317.50 350.70H343.00" stroke="#3ae84e" stroke-width="1.55" fill="none"/>
<text x="349.00" y="353.60" font-size="8.8" fill="#111" stroke="#111" stroke-width="0.15">ae=3mm</text>
<path d="M317.50 358.80H343.00" stroke="#5252f2" stroke-width="1.20" fill="none" stroke-dasharray="6.8 3.2 0.8 3.1"/>
<text x="349.00" y="361.70" font-size="8.8" fill="#111" stroke="#111" stroke-width="0.15">ae=4mm</text>
<path d="M317.50 367.30H343.00" stroke="#282828" stroke-width="1.20" fill="none"/>
<text x="349.00" y="370.20" font-size="8.8" fill="#111" stroke="#111" stroke-width="0.15">ae=5mm</text>
<defs><clipPath id="clip3"><rect x="30.50" y="415.00" width="362.80" height="97.80"/></clipPath></defs>
<path d="M33.20 512.30 C33.58 510.43 34.75 504.57 35.50 501.10 C36.25 497.63 36.98 494.35 37.70 491.50 C38.42 488.65 38.92 486.50 39.80 484.00 C40.68 481.50 41.83 478.38 43.00 476.50 C44.17 474.62 45.63 473.52 46.80 472.70 C47.97 471.88 48.75 472.02 50.00 471.60 C51.25 471.18 52.30 470.57 54.30 470.20 C56.30 469.83 59.72 469.57 62.00 469.40 C64.28 469.23 65.75 469.40 68.00 469.20 C70.25 469.00 71.32 468.88 75.50 468.20 C79.68 467.52 87.83 465.92 93.10 465.10 C98.37 464.28 102.42 463.73 107.10 463.30 C111.78 462.87 117.72 462.63 121.20 462.50 C124.68 462.37 123.95 462.07 128.00 462.50 C132.05 462.93 139.65 464.28 145.50 465.10 C151.35 465.92 157.25 466.97 163.10 467.40 C168.95 467.83 174.78 467.90 180.60 467.70 C186.42 467.50 192.18 466.78 198.00 466.20 C203.82 465.62 209.65 464.73 215.50 464.20 C221.35 463.67 227.25 463.28 233.10 463.00 C238.95 462.72 244.78 462.55 250.60 462.50 C256.42 462.45 262.18 462.70 268.00 462.70 C273.82 462.70 279.65 462.33 285.50 462.50 C291.35 462.67 297.25 463.35 303.10 463.70 C308.95 464.05 314.78 464.47 320.60 464.60 C326.42 464.73 333.85 464.60 338.00 464.50 C342.15 464.40 341.32 464.45 345.50 464.00 C349.68 463.55 357.83 462.60 363.10 461.80 C368.37 461.00 373.60 459.57 377.10 459.20 C380.60 458.83 381.90 459.10 384.10 459.60 C386.30 460.10 389.27 461.77 390.30 462.20" fill="none" stroke="#ff2020" stroke-width="1.30" stroke-linejoin="round" stroke-dasharray="6.2 3.4" clip-path="url(#clip3)"/>
<path d="M32.40 512.30 C32.55 511.08 32.87 507.40 33.30 505.00 C33.73 502.60 34.37 500.87 35.00 497.90 C35.63 494.93 36.38 490.77 37.10 487.20 C37.82 483.63 38.50 479.53 39.30 476.50 C40.10 473.47 40.83 470.97 41.90 469.00 C42.97 467.03 44.35 465.60 45.70 464.70 C47.05 463.80 48.78 463.72 50.00 463.60 C51.22 463.48 51.52 463.68 53.00 464.00 C54.48 464.32 56.32 465.17 58.90 465.50 C61.48 465.83 65.15 466.22 68.50 466.00 C71.85 465.78 74.90 465.38 79.00 464.20 C83.10 463.02 88.42 460.65 93.10 458.90 C97.78 457.15 103.02 454.95 107.10 453.70 C111.18 452.45 114.12 451.70 117.60 451.40 C121.08 451.10 123.93 451.43 128.00 451.90 C132.07 452.37 137.32 453.32 142.00 454.20 C146.68 455.08 150.83 456.32 156.10 457.20 C161.37 458.08 168.35 459.22 173.60 459.50 C178.85 459.78 183.53 459.20 187.60 458.90 C191.67 458.60 193.35 457.98 198.00 457.70 C202.65 457.42 209.65 457.28 215.50 457.20 C221.35 457.12 227.25 457.20 233.10 457.20 C238.95 457.20 244.78 457.37 250.60 457.20 C256.42 457.03 262.18 456.70 268.00 456.20 C273.82 455.70 279.65 454.47 285.50 454.20 C291.35 453.93 297.25 454.10 303.10 454.60 C308.95 455.10 314.78 456.60 320.60 457.20 C326.42 457.80 333.85 458.07 338.00 458.20 C342.15 458.33 341.32 458.50 345.50 458.00 C349.68 457.50 358.12 456.37 363.10 455.20 C368.08 454.03 371.90 452.08 375.40 451.00 C378.90 449.92 381.77 448.93 384.10 448.70 C386.43 448.47 387.87 448.87 389.40 449.60 C390.93 450.33 392.65 452.52 393.30 453.10" fill="none" stroke="#3ae84e" stroke-width="1.55" stroke-linejoin="round" clip-path="url(#clip3)"/>
<path d="M32.20 512.30 C32.30 511.68 32.43 511.35 32.80 508.60 C33.17 505.85 33.77 499.73 34.40 495.80 C35.03 491.87 35.88 488.22 36.60 485.00 C37.32 481.78 37.98 479.17 38.70 476.50 C39.42 473.83 40.00 471.33 40.90 469.00 C41.80 466.67 42.65 464.10 44.10 462.50 C45.55 460.90 47.65 460.10 49.60 459.40 C51.55 458.70 52.73 458.35 55.80 458.30 C58.87 458.25 64.72 459.00 68.00 459.10 C71.28 459.20 71.32 459.52 75.50 458.90 C79.68 458.28 87.83 456.65 93.10 455.40 C98.37 454.15 103.02 452.18 107.10 451.40 C111.18 450.62 114.12 450.72 117.60 450.70 C121.08 450.68 123.35 450.80 128.00 451.30 C132.65 451.80 139.65 453.07 145.50 453.70 C151.35 454.33 157.25 454.82 163.10 455.10 C168.95 455.38 174.78 455.45 180.60 455.40 C186.42 455.35 192.18 455.08 198.00 454.80 C203.82 454.52 209.65 454.12 215.50 453.70 C221.35 453.28 227.25 452.80 233.10 452.30 C238.95 451.80 244.78 451.05 250.60 450.70 C256.42 450.35 262.18 450.28 268.00 450.20 C273.82 450.12 279.65 450.05 285.50 450.20 C291.35 450.35 297.25 450.67 303.10 451.10 C308.95 451.53 316.12 452.28 320.60 452.80 C325.08 453.32 325.85 453.72 330.00 454.20 C334.15 454.68 339.98 456.03 345.50 455.70 C351.02 455.37 358.42 453.87 363.10 452.20 C367.78 450.53 370.68 447.17 373.60 445.70 C376.52 444.23 378.27 443.48 380.60 443.40 C382.93 443.32 385.55 444.17 387.60 445.20 C389.65 446.23 392.02 448.87 392.90 449.60" fill="none" stroke="#5252f2" stroke-width="1.20" stroke-linejoin="round" stroke-dasharray="6.8 3.2 0.8 3.1" clip-path="url(#clip3)"/>
<path d="M31.80 512.30 C32.07 509.90 32.97 502.08 33.40 497.90 C33.83 493.72 33.97 490.77 34.40 487.20 C34.83 483.63 35.37 479.90 36.00 476.50 C36.63 473.10 37.22 469.67 38.20 466.80 C39.18 463.93 40.57 461.18 41.90 459.30 C43.23 457.42 45.05 456.38 46.20 455.50 C47.35 454.62 47.58 454.52 48.80 454.00 C50.02 453.48 51.88 452.43 53.50 452.40 C55.12 452.37 56.28 453.15 58.50 453.80 C60.72 454.45 63.97 455.68 66.80 456.30 C69.63 456.92 72.58 457.72 75.50 457.50 C78.42 457.28 81.37 456.28 84.30 455.00 C87.23 453.72 89.88 451.40 93.10 449.80 C96.32 448.20 100.10 446.58 103.60 445.40 C107.10 444.22 110.88 443.17 114.10 442.70 C117.32 442.23 120.58 442.48 122.90 442.60 C125.22 442.72 124.82 442.58 128.00 443.40 C131.18 444.22 137.32 446.22 142.00 447.50 C146.68 448.78 151.42 450.30 156.10 451.10 C160.78 451.90 165.43 452.30 170.10 452.30 C174.77 452.30 179.45 451.87 184.10 451.10 C188.75 450.33 193.93 448.58 198.00 447.70 C202.07 446.82 204.98 446.27 208.50 445.80 C212.02 445.33 215.58 444.90 219.10 444.90 C222.62 444.90 226.10 445.30 229.60 445.80 C233.10 446.30 236.60 447.32 240.10 447.90 C243.60 448.48 245.95 449.02 250.60 449.30 C255.25 449.58 262.18 449.90 268.00 449.60 C273.82 449.30 279.65 448.05 285.50 447.50 C291.35 446.95 297.25 446.38 303.10 446.30 C308.95 446.22 314.78 446.67 320.60 447.00 C326.42 447.33 333.85 447.93 338.00 448.30 C342.15 448.67 341.32 449.20 345.50 449.20 C349.68 449.20 358.42 449.00 363.10 448.30 C367.78 447.60 370.38 446.33 373.60 445.00 C376.82 443.67 379.92 441.50 382.40 440.30 C384.88 439.10 386.75 438.07 388.50 437.80 C390.25 437.53 392.17 438.55 392.90 438.70" fill="none" stroke="#282828" stroke-width="1.20" stroke-linejoin="round" clip-path="url(#clip3)"/>
<path d="M30.50 418.00 H393.30 V512.80" fill="none" stroke="#000" stroke-width="1.05"/>
<path d="M30.50 418.00 V512.80 H393.30" fill="none" stroke="#000" stroke-width="1"/>
<path d="M31.00 512.80h2.00 M31.00 509.01h1.20 M31.00 505.22h1.20 M31.00 501.42h1.20 M31.00 497.63h1.20 M31.00 493.84h2.00 M31.00 490.05h1.20 M31.00 486.26h1.20 M31.00 482.46h1.20 M31.00 478.67h1.20 M31.00 474.88h2.00 M31.00 471.09h1.20 M31.00 467.30h1.20 M31.00 463.50h1.20 M31.00 459.71h1.20 M31.00 455.92h2.00 M31.00 452.13h1.20 M31.00 448.34h1.20 M31.00 444.54h1.20 M31.00 440.75h1.20 M31.00 436.96h2.00 M31.00 433.17h1.20 M31.00 429.38h1.20 M31.00 425.58h1.20 M31.00 421.79h1.20 M31.00 418.00h2.00 M47.02 512.30v-1.40 M63.55 512.30v-1.40 M80.07 512.30v-1.40 M96.60 512.30v-3.00 M113.12 512.30v-1.40 M129.65 512.30v-1.40 M146.18 512.30v-1.40 M162.70 512.30v-3.00 M179.22 512.30v-1.40 M195.75 512.30v-1.40 M212.28 512.30v-1.40 M228.80 512.30v-3.00 M245.33 512.30v-1.40 M261.85 512.30v-1.40 M278.38 512.30v-1.40 M294.90 512.30v-3.00 M311.43 512.30v-1.40 M327.95 512.30v-1.40 M344.48 512.30v-1.40 M361.00 512.30v-3.00 M377.52 512.30v-1.40" stroke="#000" stroke-width="1" fill="none"/>
<text x="29.80" y="515.30" font-size="8.4" text-anchor="end" fill="#1a1a1a" stroke="#1a1a1a" stroke-width="0.12">500</text>
<text x="29.80" y="496.34" font-size="8.4" text-anchor="end" fill="#1a1a1a" stroke="#1a1a1a" stroke-width="0.12">600</text>
<text x="29.80" y="477.38" font-size="8.4" text-anchor="end" fill="#1a1a1a" stroke="#1a1a1a" stroke-width="0.12">700</text>
<text x="29.80" y="458.42" font-size="8.4" text-anchor="end" fill="#1a1a1a" stroke="#1a1a1a" stroke-width="0.12">800</text>
<text x="29.80" y="439.46" font-size="8.4" text-anchor="end" fill="#1a1a1a" stroke="#1a1a1a" stroke-width="0.12">900</text>
<text x="29.80" y="420.50" font-size="8.4" text-anchor="end" fill="#1a1a1a" stroke="#1a1a1a" stroke-width="0.12">1000</text>
<text x="30.50" y="521.10" font-size="8.4" text-anchor="middle" fill="#1a1a1a" stroke="#1a1a1a" stroke-width="0.12">0</text>
<text x="96.60" y="521.10" font-size="8.4" text-anchor="middle" fill="#1a1a1a" stroke="#1a1a1a" stroke-width="0.12">0.02</text>
<text x="162.70" y="521.10" font-size="8.4" text-anchor="middle" fill="#1a1a1a" stroke="#1a1a1a" stroke-width="0.12">0.04</text>
<text x="228.80" y="521.10" font-size="8.4" text-anchor="middle" fill="#1a1a1a" stroke="#1a1a1a" stroke-width="0.12">0.06</text>
<text x="294.90" y="521.10" font-size="8.4" text-anchor="middle" fill="#1a1a1a" stroke="#1a1a1a" stroke-width="0.12">0.08</text>
<text x="361.00" y="521.10" font-size="8.4" text-anchor="middle" fill="#1a1a1a" stroke="#1a1a1a" stroke-width="0.12">0.1</text>
<text x="206.00" y="526.80" font-size="8.5" font-weight="bold" text-anchor="middle" fill="#111" stroke="#111" stroke-width="0.2">Time (S)</text>
<text transform="translate(11.8 467.70) rotate(-90)" font-size="8.9" font-weight="bold" text-anchor="middle" fill="#111" stroke="#111" stroke-width="0.15">Temperature (<tspan font-family="Noto Serif CJK SC, serif" font-weight="bold" font-size="7.6" dy="0.5">℃</tspan><tspan dy="-0.5">)</tspan></text>
<text x="197.90" y="544.50" font-size="10.0" font-weight="bold" text-anchor="middle" fill="#111" stroke="#111" stroke-width="0.2">(d)</text>
<path d="M317.50 478.20H343.00" stroke="#ff2020" stroke-width="1.30" fill="none" stroke-dasharray="6.2 3.4"/>
<text x="348.80" y="481.10" font-size="8.8" fill="#111" stroke="#111" stroke-width="0.15">ap=2mm</text>
<path d="M317.50 487.00H343.00" stroke="#3ae84e" stroke-width="1.55" fill="none"/>
<text x="348.80" y="489.90" font-size="8.8" fill="#111" stroke="#111" stroke-width="0.15">ap=3mm</text>
<path d="M317.50 495.90H343.00" stroke="#5252f2" stroke-width="1.20" fill="none" stroke-dasharray="6.8 3.2 0.8 3.1"/>
<text x="348.80" y="498.80" font-size="8.8" fill="#111" stroke="#111" stroke-width="0.15">ap=4mm</text>
<path d="M317.50 504.00H343.00" stroke="#282828" stroke-width="1.20" fill="none"/>
<text x="348.80" y="506.90" font-size="8.8" fill="#111" stroke="#111" stroke-width="0.15">ap=5mm</text>
</svg></body></html>
